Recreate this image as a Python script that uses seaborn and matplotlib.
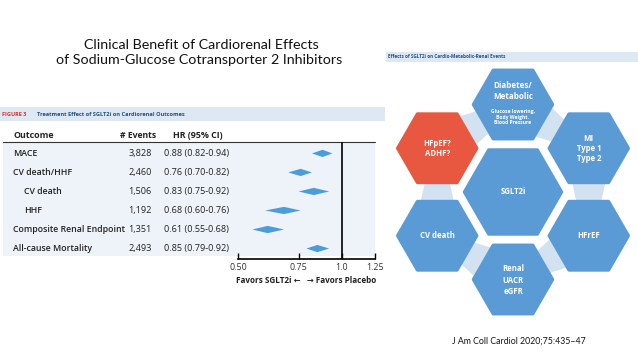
"""
Slide: forest plot of SGLT2i cardiorenal outcomes + hexagon diagram
"""

import numpy as np
import seaborn as sns
import matplotlib.pyplot as plt
from matplotlib.patches import Rectangle, RegularPolygon, Polygon
from matplotlib.transforms import blended_transform_factory

# ---------------------------------------------------------------------------
# Data
# ---------------------------------------------------------------------------

outcomes = ['MACE', 'CV death/HHF', 'CV death', 'HHF', 'Composite Renal Endpoint', 'All-cause Mortality']
indented = [False, False, True, True, False, False]
events = ['3,828', '2,460', '1,506', '1,192', '1,351', '2,493']
hr = [0.88, 0.76, 0.83, 0.68, 0.61, 0.85]
hr_lo = [0.82, 0.70, 0.75, 0.60, 0.55, 0.79]
hr_hi = [0.94, 0.82, 0.92, 0.76, 0.68, 0.92]
x_ticks = [0.50, 0.75, 1.0, 1.25]
x_tick_labels = ['0.50', '0.75', '1.0', '1.25']

hex_labels = ['Diabetes/\nMetabolic', 'MI\nType 1\nType 2', 'HFrEF', 'Renal', 'CV death', 'HFpEF?\nADHF?']
hex_sublabels = ['Glucose lowering,\nBody Weight,\nBlood Pressure', '', '', 'UACR\neGFR', '', '']
hex_angles = [90, 30, -30, -90, -150, 150]
hex_highlight = [False, False, False, False, False, True]

# ---------------------------------------------------------------------------
# Style
# ---------------------------------------------------------------------------

sns.set_theme(style='white')
plt.rcParams['font.family'] = ['Open Sans', 'DejaVu Sans']

BLUE = '#5b9bd5'
RED = '#e8573f'
PALE = '#d3e2f1'
DIAMOND = '#4b9cd9'
PANEL = '#eef3f9'
BAR = '#dde8f4'
INK = '#222222'

fig = plt.figure(figsize=(6.38, 3.59), dpi=100)
fig.patch.set_facecolor('white')

# background axes in pixel units
bg = fig.add_axes([0, 0, 1, 1])
bg.set_xlim(0, 638)
bg.set_ylim(359, 0)
bg.axis('off')

# title
bg.text(201, 45, 'Clinical Benefit of Cardiorenal Effects', ha='center', va='center',
        fontsize=10.3, family=['Lato', 'DejaVu Sans'], color='#111111')
bg.text(199, 60.5, 'of Sodium-Glucose Cotransporter 2 Inhibitors', ha='center', va='center',
        fontsize=10.3, family=['Lato', 'DejaVu Sans'], color='#111111')

# ---------------------------------------------------------------------------
# Forest plot
# ---------------------------------------------------------------------------

bg.add_patch(Rectangle((0, 107), 385, 14, color=BAR, lw=0))
bg.text(2, 114.5, 'FIGURE 3', color='#d1322b', fontsize=4.0, fontweight='bold', va='center')
bg.text(37, 114.5, 'Treatment Effect of SGLT2i on Cardiorenal Outcomes', color='#24507e',
        fontsize=4.1, fontweight='bold', va='center')
bg.add_patch(Rectangle((3, 142), 372, 114, color=PANEL, lw=0))

ax = fig.add_axes([238 / 638, 1 - 259 / 359, 137 / 638, 117 / 359])
ax.patch.set_alpha(0)
ax.set_xscale('log')
ax.set_xlim(0.5, 1.25)
ax.set_ylim(5.55, -0.6)

rows = np.arange(len(outcomes))
half_h = 0.19
for y, m, lo, hi in zip(rows, hr, hr_lo, hr_hi):
    ax.fill([lo, m, hi, m], [y, y - half_h, y, y + half_h], color=DIAMOND, lw=0)

ax.axvline(1.0, color='black', lw=1.2)
sns.despine(ax=ax, left=True, top=True, right=True)
ax.spines['bottom'].set_color('black')
ax.spines['bottom'].set_linewidth(1.2)
ax.set_yticks([])
ax.set_xticks(x_ticks)
ax.set_xticklabels(x_tick_labels)
ax.minorticks_off()
ax.tick_params(axis='x', direction='in', length=4, width=1, colors='black',
               labelsize=6.4, labelcolor='#333333', pad=3, bottom=True)
ax.set_xlabel('Favors SGLT2i \u2190   \u2192 Favors Placebo', fontsize=5.9, fontweight='bold',
              color=INK, labelpad=3)

# table columns (x in pixels, y in row units)
tr = blended_transform_factory(bg.transData, ax.transData)
head_y = -0.92
ax.text(13, head_y, 'Outcome', transform=tr, fontsize=6.4, fontweight='bold', color=INK,
        va='center', clip_on=False)
ax.text(156, head_y, '# Events', transform=tr, fontsize=6.2, fontweight='bold', color=INK,
        va='center', ha='right', clip_on=False)
ax.text(173, head_y, 'HR (95% CI)', transform=tr, fontsize=6.4, fontweight='bold', color=INK,
        va='center', clip_on=False)
bg.plot([3, 375], [142, 142], color='#333333', lw=0.8)

for y, name, ind, ev, m, lo, hi in zip(rows, outcomes, indented, events, hr, hr_lo, hr_hi):
    ax.text(24 if ind else 13, y, name, transform=tr, fontsize=6.3, color=INK,
            va='center', clip_on=False, fontweight='semibold')
    ax.text(151.5, y, ev, transform=tr, fontsize=6.6, color=INK, va='center', ha='right',
            clip_on=False)
    ax.text(164.5, y, f'{m:.2f} ({lo:.2f}-{hi:.2f})', transform=tr, fontsize=6.6, color=INK,
            va='center', clip_on=False)

# ---------------------------------------------------------------------------
# Hexagon diagram
# ---------------------------------------------------------------------------

bg.add_patch(Rectangle((386, 52), 252, 9.5, color=BAR, lw=0))
bg.text(388, 56.5, 'Effects of SGLT2i on Cardio-Metabolic-Renal Events', color='#24507e',
        fontsize=3.3, fontweight='bold', va='center')

cx, cy = 513, 192
ring = 87.5
r_out = 41
r_in = 50


def hex_center(a):
    return cx + ring * np.cos(np.radians(a)), cy - ring * np.sin(np.radians(a))


def vertex(c, r, a):
    return c[0] + r * np.cos(np.radians(a)), c[1] - r * np.sin(np.radians(a))


centers = [hex_center(a) for a in hex_angles]

# pale connectors between neighbouring hexagons
for i in range(len(centers)):
    ci, cj = centers[i], centers[(i + 1) % len(centers)]
    d = np.degrees(np.arctan2(-(cj[1] - ci[1]), cj[0] - ci[0]))
    pts = [vertex(ci, r_out, d + 30), vertex(ci, r_out, d - 30),
           vertex(cj, r_out, d + 210), vertex(cj, r_out, d + 150)]
    pts = np.array(pts)
    mid_a = (pts[0] + pts[1]) / 2
    mid_b = (pts[2] + pts[3]) / 2
    pts[:2] = mid_a + 0.8 * (pts[:2] - mid_a)
    pts[2:] = mid_b + 0.62 * (pts[2:] - mid_b)
    bg.add_patch(Polygon(pts, closed=True, color=PALE, lw=0, zorder=1))

for c, lab, sub, hl in zip(centers, hex_labels, hex_sublabels, hex_highlight):
    col = RED if hl else BLUE
    bg.add_patch(RegularPolygon(c, 6, radius=r_out - 1.5, orientation=np.pi / 6, facecolor=col,
                                edgecolor=col, lw=2.5, joinstyle='round', zorder=2))
    if sub:
        n_sub = sub.count('\n') + 1
        if n_sub == 2:
            bg.text(c[0], c[1] - 11, lab, ha='center', va='center', color='white',
                    fontsize=5.6, fontweight='bold', zorder=3)
            bg.text(c[0], c[1] + 6.5, sub, ha='center', va='center', color='white',
                    fontsize=5.6, fontweight='bold', zorder=3, linespacing=1.15)
        else:
            bg.text(c[0], c[1] - 13.5, lab, ha='center', va='center', color='white',
                    fontsize=5.8, fontweight='bold', zorder=3, linespacing=1.15)
            bg.text(c[0], c[1] + 12.5, sub, ha='center', va='center', color='white',
                    fontsize=3.6, fontweight='bold', zorder=3, linespacing=1.2)
    else:
        bg.text(c[0], c[1], lab, ha='center', va='center', color='white',
                fontsize=5.6, fontweight='bold', zorder=3, linespacing=1.15)

bg.add_patch(RegularPolygon((cx, cy), 6, radius=r_in - 1.5, orientation=np.pi / 6,
                            facecolor=BLUE, edgecolor=BLUE, lw=2.5, joinstyle='round', zorder=2))
bg.text(cx, cy, 'SGLT2i', ha='center', va='center', color='white', fontsize=5.6,
        fontweight='bold', zorder=3)

bg.text(452, 341, 'J Am Coll Cardiol 2020;75:435\u201347', fontsize=6.3, color='#111111',
        va='center', family=['Lato', 'DejaVu Sans'])

fig.savefig('out.png', dpi=100, facecolor='white')
